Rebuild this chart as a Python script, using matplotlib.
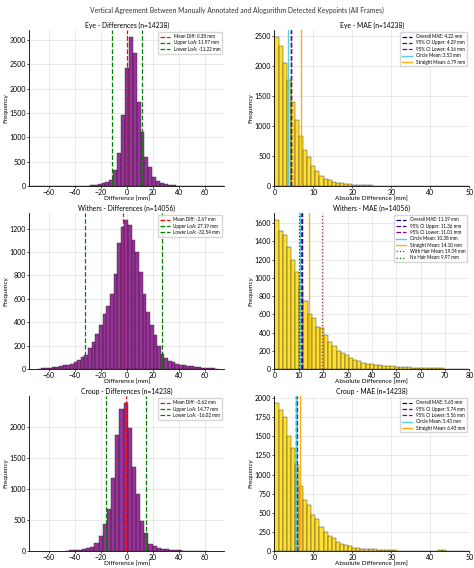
import matplotlib
matplotlib.use("Agg")
import matplotlib.pyplot as plt
import numpy as np

plt.rcParams['font.family'] = ['Lato', 'DejaVu Sans']

# ---------------- data ----------------
suptitle = "Vertical Agreement Between Manually Annotated and Alogorithm Detected Keypoints (All Frames)"

# Differences histograms (bin start, bin width, counts)
eye_diff_start = -76.5
eye_diff_width = 3.0
eye_diff_counts = [0, 0, 0, 0, 0, 0, 0, 0, 0, 0, 0, 0, 0, 2, 5, 10, 15, 25, 40, 60, 90, 130,
                   320, 670, 1450, 2420, 3050, 2730, 1720, 1100, 590, 390, 180, 110, 70, 40,
                   25, 15, 10, 5, 3, 2, 1, 0, 0, 0, 0, 0, 0, 0, 0]
eye_mean, eye_upper, eye_lower = 0.38, 11.97, -11.22

withers_diff_start = -69.1
withers_diff_width = 2.8
withers_diff_counts = [3, 5, 8, 10, 15, 20, 25, 30, 35, 45, 60, 80, 100, 120, 180, 230, 300, 380,
                       470, 540, 640, 810, 1080, 1210, 1270, 1230, 1100, 1000, 830, 640, 490, 380,
                       290, 200, 130, 90, 70, 60, 45, 35, 30, 25, 25, 20, 15, 12, 10, 8, 5, 3]
withers_mean, withers_upper, withers_lower = -2.67, 27.19, -32.54

croup_diff_start = -47.4
croup_diff_width = 3.2
croup_diff_counts = [5, 10, 15, 20, 30, 45, 70, 125, 240, 440, 670, 1180, 1870, 2285, 2380,
                     1990, 1350, 915, 485, 295, 110, 80, 55, 40, 25, 20, 15, 10, 5, 3, 2, 3, 5, 3]
croup_mean, croup_upper, croup_lower = -0.62, 14.77, -16.02

# MAE histograms
eye_mae_width = 1.05
eye_mae_counts = [2470, 2330, 2040, 1770, 1400, 1100, 830, 600, 490, 340, 250, 160, 120, 100,
                  70, 55, 45, 35, 28, 22, 18, 14, 11, 9, 7, 6, 5, 4, 3, 3, 2, 2, 2, 1, 1, 1,
                  1, 1, 0, 0, 0, 0, 0, 0, 0, 0, 0, 0]
eye_mae_lines = {"overall": 4.22, "ci_up": 4.29, "ci_lo": 4.16, "circle": 3.53, "straight": 6.79}

withers_mae_width = 1.7
withers_mae_counts = [1630, 1510, 1475, 1340, 1200, 1060, 900, 750, 600, 560, 460, 445, 370, 300,
                      250, 200, 170, 150, 120, 100, 85, 70, 60, 50, 45, 40, 35, 30, 35, 25, 25,
                      20, 20, 15, 15, 12, 10, 10, 8, 8, 6, 5, 5, 4, 3, 3, 2, 2]
withers_mae_lines = {"overall": 11.19, "ci_up": 11.36, "ci_lo": 11.01, "circle": 10.38,
                     "straight": 14.10, "hair": 19.34, "nohair": 9.97}

croup_mae_width = 1.05
croup_mae_counts = [1930, 1840, 1750, 1500, 1350, 1120, 850, 670, 600, 470, 420, 310, 250, 195,
                    170, 120, 95, 80, 60, 45, 38, 30, 25, 20, 20, 15, 12, 10, 8, 8, 6, 5, 5, 4,
                    4, 3, 3, 3, 3, 2, 10, 8, 2, 1, 0, 0, 0, 0]
croup_mae_lines = {"overall": 5.65, "ci_up": 5.74, "ci_lo": 5.56, "circle": 5.43, "straight": 6.45}

# ---------------- figure ----------------
fig = plt.figure(figsize=(4.74, 5.68), dpi=100)
fig.text(0.5, 0.988, suptitle, ha='center', va='top', fontsize=4.9, color='#333333')

lx, rx, w = 0.0622, 0.579, 0.411
rows = [(0.6725, 0.2747), (0.3504, 0.2746), (0.0299, 0.2729)]

TS = 4.9   # title size
LS = 4.6   # label size
KS = 5.0   # tick size
GS = 3.3   # legend size


def style(ax):
    ax.grid(True, color='#e0e0e0', linewidth=0.5)
    ax.set_axisbelow(True)
    for s in ['top', 'right']:
        ax.spines[s].set_visible(False)
    for s in ['left', 'bottom']:
        ax.spines[s].set_linewidth(0.6)
    ax.tick_params(labelsize=KS, length=1.5, width=0.5, pad=1)


def diff_panel(ax, start, width, counts, mean, up, lo, title):
    counts = np.asarray(counts)
    edges = start + width * np.arange(len(counts))
    ax.bar(edges, counts, width=width, align='edge', color='purple', alpha=0.8,
           edgecolor='#222222', linewidth=0.35)
    ax.axvline(mean, color='red', linestyle='--', linewidth=0.9, label=f"Mean Diff: {mean:.2f} mm")
    ax.axvline(up, color='green', linestyle='--', linewidth=0.9, label=f"Upper LoA: {up:.2f} mm")
    ax.axvline(lo, color='green', linestyle='--', linewidth=0.9, label=f"Lower LoA: {lo:.2f} mm")
    ax.set_xlim(-75, 75)
    ax.set_xticks([-60, -40, -20, 0, 20, 40, 60])
    ax.set_ylim(0, counts.max() * 1.05)
    ax.set_title(title, fontsize=TS, pad=1.5)
    ax.set_xlabel("Difference [mm]", fontsize=LS, labelpad=0)
    ax.set_ylabel("Frequency", fontsize=LS, labelpad=1)
    style(ax)
    ax.legend(loc='upper right', fontsize=GS, framealpha=0.8, borderpad=0.4,
              handlelength=2.2, labelspacing=0.3, edgecolor='#cccccc')


def mae_panel(ax, width, counts, lines, title, xmax, yticks):
    counts = np.asarray(counts)
    edges = width * np.arange(len(counts))
    ax.bar(edges, counts, width=width, align='edge', color='gold', alpha=0.8,
           edgecolor='#222222', linewidth=0.35)
    ax.axvline(lines["overall"], color='navy', linestyle='--', linewidth=0.9,
               label=f"Overall MAE: {lines['overall']:.2f} mm")
    ax.axvline(lines["ci_up"], color='indigo', linestyle='--', linewidth=0.9,
               label=f"95% CI Upper: {lines['ci_up']:.2f} mm")
    ax.axvline(lines["ci_lo"], color='purple', linestyle='--', linewidth=0.9,
               label=f"95% CI Lower: {lines['ci_lo']:.2f} mm")
    ax.axvline(lines["circle"], color='#40d0e0', linestyle='-', linewidth=1.0, alpha=0.9,
               label=f"Circle Mean: {lines['circle']:.2f} mm")
    ax.axvline(lines["straight"], color='orange', linestyle='-', linewidth=1.0, alpha=0.9,
               label=f"Straight Mean: {lines['straight']:.2f} mm")
    if "hair" in lines:
        ax.axvline(lines["hair"], color='brown', linestyle=':', linewidth=0.9,
                   label=f"With Hair Mean: {lines['hair']:.2f} mm")
        ax.axvline(lines["nohair"], color='darkgreen', linestyle=':', linewidth=0.9,
                   label=f"No Hair Mean: {lines['nohair']:.2f} mm")
    ax.set_xlim(0, xmax)
    ax.set_ylim(0, counts.max() * 1.05)
    ax.set_yticks(yticks)
    ax.set_title(title, fontsize=TS, pad=1.5)
    ax.set_xlabel("Absolute Difference [mm]", fontsize=LS, labelpad=0)
    ax.set_ylabel("Frequency", fontsize=LS, labelpad=1)
    style(ax)
    ax.legend(loc='upper right', fontsize=GS, framealpha=0.8, borderpad=0.4,
              handlelength=2.2, labelspacing=0.3, edgecolor='#cccccc')


ax1 = fig.add_axes([lx, rows[0][0], w, rows[0][1]])
diff_panel(ax1, eye_diff_start, eye_diff_width, eye_diff_counts, eye_mean, eye_upper, eye_lower,
           "Eye - Differences (n=14238)")
ax2 = fig.add_axes([rx, rows[0][0], w, rows[0][1]])
mae_panel(ax2, eye_mae_width, eye_mae_counts, eye_mae_lines, "Eye - MAE (n=14238)", 50,
          [0, 500, 1000, 1500, 2000, 2500])

ax3 = fig.add_axes([lx, rows[1][0], w, rows[1][1]])
diff_panel(ax3, withers_diff_start, withers_diff_width, withers_diff_counts, withers_mean,
           withers_upper, withers_lower, "Withers - Differences (n=14056)")
ax4 = fig.add_axes([rx, rows[1][0], w, rows[1][1]])
mae_panel(ax4, withers_mae_width, withers_mae_counts, withers_mae_lines, "Withers - MAE (n=14056)",
          80, [0, 200, 400, 600, 800, 1000, 1200, 1400, 1600])

ax5 = fig.add_axes([lx, rows[2][0], w, rows[2][1]])
diff_panel(ax5, croup_diff_start, croup_diff_width, croup_diff_counts, croup_mean, croup_upper,
           croup_lower, "Croup - Differences (n=14238)")
ax6 = fig.add_axes([rx, rows[2][0], w, rows[2][1]])
mae_panel(ax6, croup_mae_width, croup_mae_counts, croup_mae_lines, "Croup - MAE (n=14238)", 50,
          [0, 250, 500, 750, 1000, 1250, 1500, 1750, 2000])

fig.savefig("out.png", dpi=100)
